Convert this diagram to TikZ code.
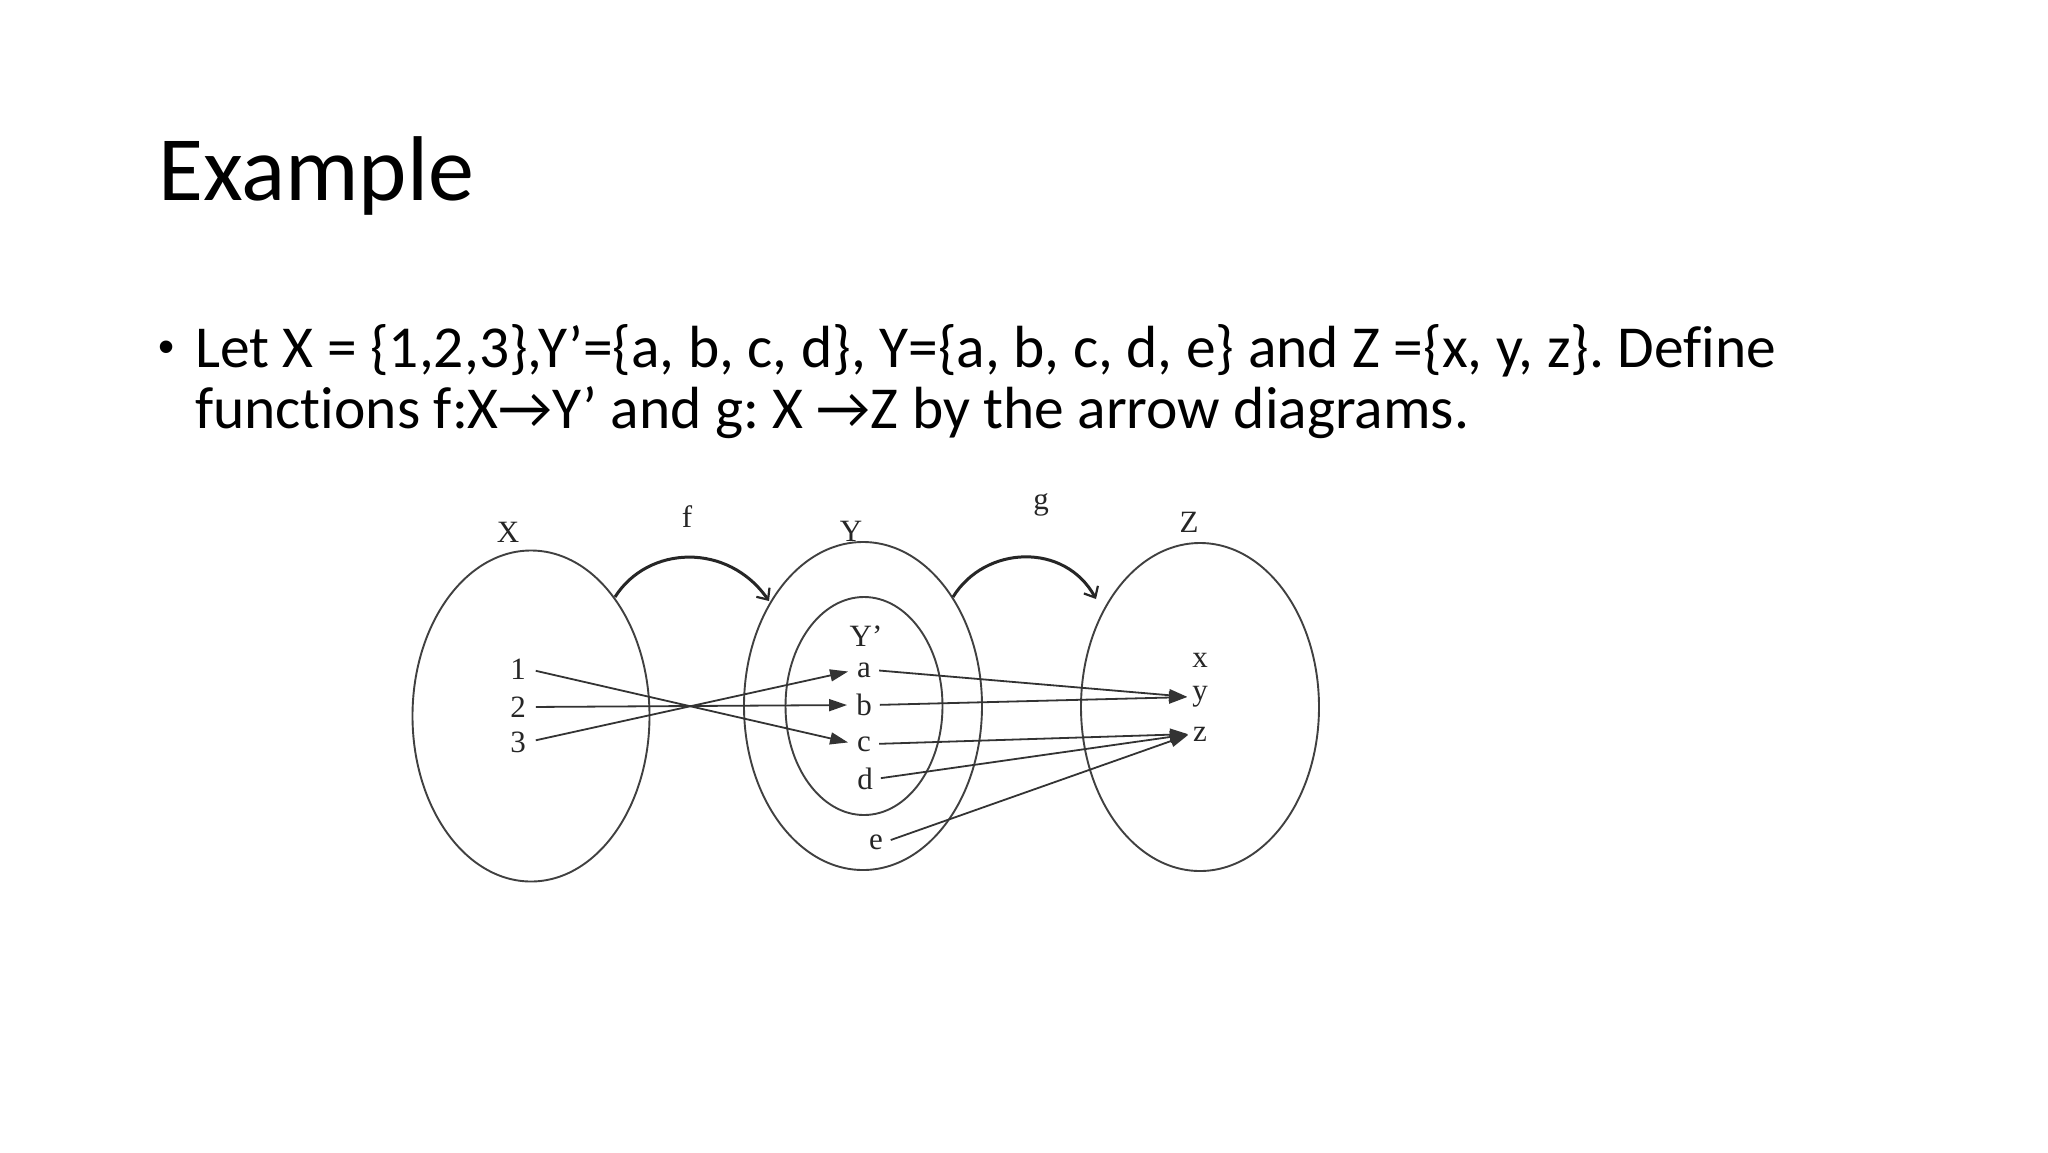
\documentclass[tikz,border=0pt]{standalone}
\usepackage{fontspec}
\setmainfont{Carlito}[Ligatures=NoCommon]
\newfontfamily\lblfont{Liberation Serif}
\newfontfamily\bulfont{Liberation Sans}
\usetikzlibrary{shapes.geometric,arrows.meta}
\frenchspacing
\begin{document}
\begin{tikzpicture}[x=1pt,y=-1pt,
  setshape/.style={ellipse,draw=black!75,line width=1.9pt,inner sep=0pt},
  lbl/.style={font=\lblfont\fontsize{31}{33}\selectfont,inner sep=2pt,text=black!85},
  maparrow/.style={draw=black!80,line width=1.8pt,-{Triangle[length=18pt,width=12pt]}},
  fmap/.style={maparrow,shorten <=8pt,shorten >=7pt},
  gmap/.style={maparrow,shorten <=6pt,shorten >=3pt},
  funarc/.style={draw=black!85,line width=3pt,-{Straight Barb[length=9pt,width=16pt,line width=2.2pt]}},
  body/.style={font=\fontsize{59.5}{70}\selectfont,anchor=base west,inner sep=0pt}]
\useasboundingbox (0,0) rectangle (2048,1152);
\fill[white] (0,0) rectangle (2048,1152);

% title and text
\node[anchor=base west,inner sep=0pt,font=\fontsize{92}{110}\selectfont] (title) at (158,200) {Example};
\node[anchor=base west,inner sep=0pt,font=\bulfont\fontsize{46}{50}\selectfont] (bullet) at (158,362) {•};
\node[body] (line1) at (195,367) {Let X = \{1,2,3\},Y’=\{a, b, c, d\}, Y=\{a, b, c, d, e\} and Z =\{x, y, z\}. Define};
\node[body] (line2) at (195,428) {functions f:X→Y’ and g: X →Z by the arrow diagrams.};

% sets
\node[setshape,minimum width=237pt,minimum height=331pt] (X) at (531,716) {};
\node[setshape,minimum width=238pt,minimum height=328pt] (Y) at (863,706) {};
\node[setshape,minimum width=157pt,minimum height=218pt] (Yp) at (864,706) {};
\node[setshape,minimum width=238pt,minimum height=328pt] (Z) at (1200,707) {};

% set labels
\node[lbl] (lX) at (508,532) {X};
\node[lbl] (lY) at (851,531) {Y};
\node[lbl] (lYp) at (866,636) {Y’};
\node[lbl] (lZ) at (1189,522) {Z};
\node[lbl] (lf) at (687,517) {f};
\node[lbl] (lg) at (1041,505) {g};

% elements
\node[lbl] (n1) at (518,669) {1};
\node[lbl] (n2) at (518,707) {2};
\node[lbl] (n3) at (518,742) {3};
\node[lbl] (ea) at (864,670) {a};
\node[lbl] (eb) at (864,705) {b};
\node[lbl] (ec) at (864,744) {c};
\node[lbl] (ed) at (865,779) {d};
\node[lbl] (ee) at (876,842) {e};
\node[lbl] (zx) at (1200,660) {x};
\node[lbl] (zy) at (1200,697) {y};
\node[lbl] (zz) at (1200,734) {z};

% function arcs
\coordinate (fs) at (615,597);
\coordinate (fe) at (769,601);
\coordinate (gs) at (953,597);
\coordinate (ge) at (1096,599);
\draw[funarc] (fs) .. controls (648,545) and (728,542) .. (fe);
\draw[funarc] (gs) .. controls (985,545) and (1065,542) .. (ge);

% f mappings
\draw[fmap] (n1.east) -- (ec.west);
\draw[fmap] (n2.east) -- (eb.west);
\draw[fmap] (n3.east) -- (ea.west);

% g mappings
\draw[gmap] (ea.east) -- (zy.west);
\draw[gmap] (eb.east) -- (zy.west);
\draw[gmap] (ec.east) -- (zz.west);
\draw[gmap] (ed.east) -- (zz.west);
\draw[gmap] (ee.east) -- (zz.west);
\end{tikzpicture}
\end{document}
